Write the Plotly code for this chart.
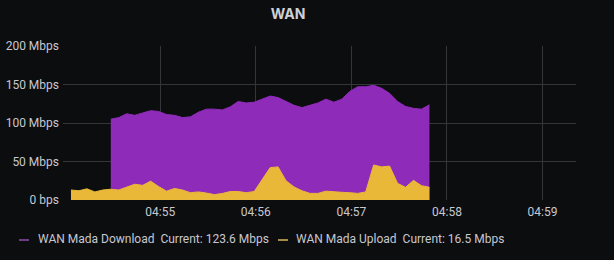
import plotly.graph_objects as go
import pandas as pd

start_time = "2024-01-01 04:54:04"
step_seconds = 5

download_mbps = [None, None, None, None, None,
                 105, 107, 112, 110, 113, 116, 115, 111, 110, 107,
                 108, 114, 118, 118, 117, 121, 128, 126, 127, 131,
                 135, 133, 128, 123, 120, 123, 126, 131, 127, 131,
                 141, 147, 147, 149, 145, 138.5, 128, 121.5, 119, 118, 123.6]
upload_mbps = [13, 12, 14.5, 10.5, 13, 14, 13, 16.5, 20.5, 19,
               24.5, 17.5, 11.5, 15, 13, 9.5, 10.5, 9, 7, 8.5,
               11, 11, 9.5, 11, 27, 42, 43, 25, 17, 12,
               8.6, 8.6, 11.5, 10.5, 10, 9.5, 8.6, 10.5, 45.5, 43,
               44, 21.6, 16.5, 25.5, 18.6, 16.5]

y_tick_vals = [0, 50, 100, 150, 200]
y_tick_text = ["0 bps", "50 Mbps", "100 Mbps", "150 Mbps", "200 Mbps"]
x_tick_vals = ["2024-01-01 04:55:00", "2024-01-01 04:56:00", "2024-01-01 04:57:00",
               "2024-01-01 04:58:00", "2024-01-01 04:59:00"]
x_tick_text = ["04:55", "04:56", "04:57", "04:58", "04:59"]
legend_labels = ["WAN Mada Download\u00a0 Current: 123.6 Mbps", "WAN Mada Upload\u00a0 Current: 16.5 Mbps"]

times = pd.date_range(start_time, periods=len(upload_mbps), freq=f"{step_seconds}s")

PURPLE = "#8F2BB9"
YELLOW = "#EAB839"
BG = "#0c0d0f"
TXT = "#c7c8cf"
GRID = "#34363b"

W, H = 614, 260
L, R, T, B = 63, 38, 46, 60

fig = go.Figure()
fig.add_trace(go.Scatter(x=times, y=download_mbps, mode="lines", fill="tozeroy",
                         line=dict(color=PURPLE, width=1), fillcolor=PURPLE,
                         showlegend=False, connectgaps=False))
fig.add_trace(go.Scatter(x=times, y=upload_mbps, mode="lines", fill="tozeroy",
                         line=dict(color=YELLOW, width=1), fillcolor=YELLOW,
                         showlegend=False))

fig.update_layout(
    width=W, height=H,
    margin=dict(l=L, r=R, t=T, b=B, autoexpand=False),
    paper_bgcolor=BG, plot_bgcolor=BG,
    font=dict(family="Roboto, Inter, sans-serif", size=12, color=TXT),
    title=dict(text="<b>WAN</b>", x=288 / W, xanchor="center", y=1 - 14 / H, yanchor="middle",
               font=dict(size=14, color="#d0d1d8", family="Inter, Roboto, sans-serif")),
    showlegend=False,
)
fig.update_xaxes(range=["2024-01-01 04:53:59", "2024-01-01 04:59:21"],
                 tickvals=x_tick_vals, ticktext=x_tick_text,
                 showgrid=True, gridcolor=GRID, gridwidth=1, automargin=False,
                 zeroline=False, showline=False, ticks="", ticklabelstandoff=3,
                 tickfont=dict(size=12, color=TXT))
fig.update_yaxes(range=[0, 200], tickvals=y_tick_vals, ticktext=y_tick_text,
                 showgrid=True, gridcolor=GRID, gridwidth=1, automargin=False,
                 zeroline=False, showline=False, ticks="", ticklabelstandoff=3,
                 tickfont=dict(size=12, color=TXT))

legend_y_px = 239
def px_x(x):
    return (x - L) / (W - L - R)
def px_y(y):
    return (H - B - y) / (H - T - B)

items = [(legend_labels[0], "#6d3c86", 19, 36), (legend_labels[1], "#a58a4a", 278, 294)]
for label, col, dx, tx in items:
    fig.add_shape(type="line", xref="paper", yref="paper",
                  x0=px_x(dx), x1=px_x(dx + 10), y0=px_y(legend_y_px + 1), y1=px_y(legend_y_px + 1),
                  line=dict(color=col, width=2))
    fig.add_annotation(text=label, xref="paper", yref="paper", x=px_x(tx), y=px_y(legend_y_px),
                       xanchor="left", yanchor="middle", showarrow=False,
                       font=dict(size=12, color=TXT, family="Roboto, sans-serif"))

fig.write_html("out.html")
